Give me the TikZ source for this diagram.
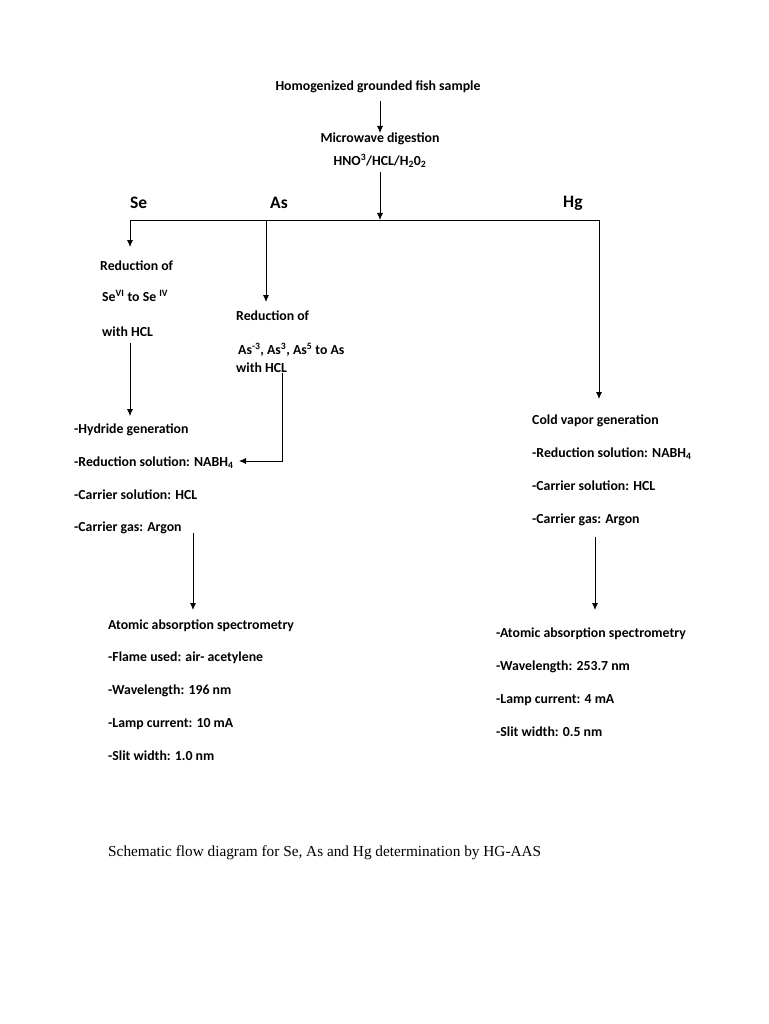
\documentclass[tikz,border=0pt]{standalone}
\usepackage{fontspec}
\setmainfont{Carlito}
\newfontfamily\capfont{Liberation Serif}
\usetikzlibrary{arrows.meta}
\tikzset{
  txt/.style={anchor=west, inner sep=0pt, font=\fontsize{13.8}{16}\selectfont\bfseries, text height=9.5pt, text depth=3pt, yshift=-1.5pt},
  ctxt/.style={txt, anchor=center},
  elem/.style={anchor=west, inner sep=0pt, font=\fontsize{17.5}{20}\selectfont\bfseries},
  arr/.style={draw=black, line width=0.8pt, -{Latex[length=7pt,width=6pt]}},
  ln/.style={draw=black, line width=0.8pt}
}
\begin{document}
\begin{tikzpicture}[x=1pt,y=-1pt]
\useasboundingbox[fill=white] (0,0) rectangle (768,1024);
% top
\node[ctxt] (title) at (378,86) {Homogenized grounded fish sample};
\node[ctxt] (micro) at (380,138) {Microwave digestion};
\node[ctxt] (acid) at (380,161) {HNO\textsuperscript{3}/HCL/H\textsubscript{2}0\textsubscript{2}};
\coordinate (a1s) at (380,101);
\coordinate (a1e) at (380,133);
\draw[arr] (a1s) -- (a1e);
\coordinate (a2s) at (380,172);
\coordinate (jc) at (380,220);
\draw[arr] (a2s) -- (jc);
% element labels
\node[elem] (se) at (130,203) {Se};
\node[elem] (as) at (270,203) {As};
\node[elem] (hg) at (563,203) {Hg};
% branch line
\coordinate (jse) at (130,220);
\coordinate (jas) at (266,220);
\coordinate (jhg) at (599,220);
\draw[ln] (jse) -- (jhg);
\coordinate (seA) at (130,247);
\draw[arr] (jse) -- (seA);
\coordinate (asA) at (266,302);
\draw[arr] (jas) -- (asA);
\coordinate (hgA) at (599,399);
\draw[arr] (jhg) -- (hgA);
% Se branch
\node[txt] (ser1) at (100,266) {Reduction of};
\node[txt] (ser2) at (102,297) {Se\textsuperscript{VI} to Se \textsuperscript{IV}};
\node[txt] (ser3) at (102,332) {with HCL};
\coordinate (se2s) at (130,343);
\coordinate (se2e) at (130,416);
\draw[arr] (se2s) -- (se2e);
% As branch
\node[txt] (asr1) at (236,316) {Reduction of};
\node[txt] (asr2) at (238,350) {As\textsuperscript{-3}, As\textsuperscript{3}, As\textsuperscript{5} to As};
\node[txt] (asr3) at (236,368) {with HCL};
\coordinate (as2s) at (282,373);
\coordinate (as2c) at (282,461);
\coordinate (as2e) at (239,461);
\draw[arr] (as2s) -- (as2c) -- (as2e);
% left block
\node[txt] (l1) at (74,429) {-Hydride generation};
\node[txt] (l2) at (74,462) {-Reduction solution: NABH\textsubscript{4}};
\node[txt] (l3) at (74,495) {-Carrier solution: HCL};
\node[txt] (l4) at (74,527) {-Carrier gas: Argon};
\coordinate (l5s) at (193,533);
\coordinate (l5e) at (193,610);
\draw[arr] (l5s) -- (l5e);
\node[txt] (la1) at (108,625) {Atomic absorption spectrometry};
\node[txt] (la2) at (108,657) {-Flame used: air- acetylene};
\node[txt] (la3) at (108,690) {-Wavelength: 196 nm};
\node[txt] (la4) at (108,723) {-Lamp current: 10 mA};
\node[txt] (la5) at (108,756) {-Slit width: 1.0 nm};
% right block
\node[txt] (r1) at (532,420) {Cold vapor generation};
\node[txt] (r2) at (532,453) {-Reduction solution: NABH\textsubscript{4}};
\node[txt] (r3) at (532,486) {-Carrier solution: HCL};
\node[txt] (r4) at (532,519) {-Carrier gas: Argon};
\coordinate (r5s) at (595,537);
\coordinate (r5e) at (595,610);
\draw[arr] (r5s) -- (r5e);
\node[txt] (ra1) at (496,633) {-Atomic absorption spectrometry};
\node[txt] (ra2) at (496,666) {-Wavelength: 253.7 nm};
\node[txt] (ra3) at (496,699) {-Lamp current: 4 mA};
\node[txt] (ra4) at (496,732) {-Slit width: 0.5 nm};
% caption
\node[anchor=west, inner sep=0pt, font=\capfont\fontsize{15.3}{18}\selectfont] (cap) at (108,853) {Schematic flow diagram for Se, As and Hg determination by HG-AAS};
\end{tikzpicture}
\end{document}
